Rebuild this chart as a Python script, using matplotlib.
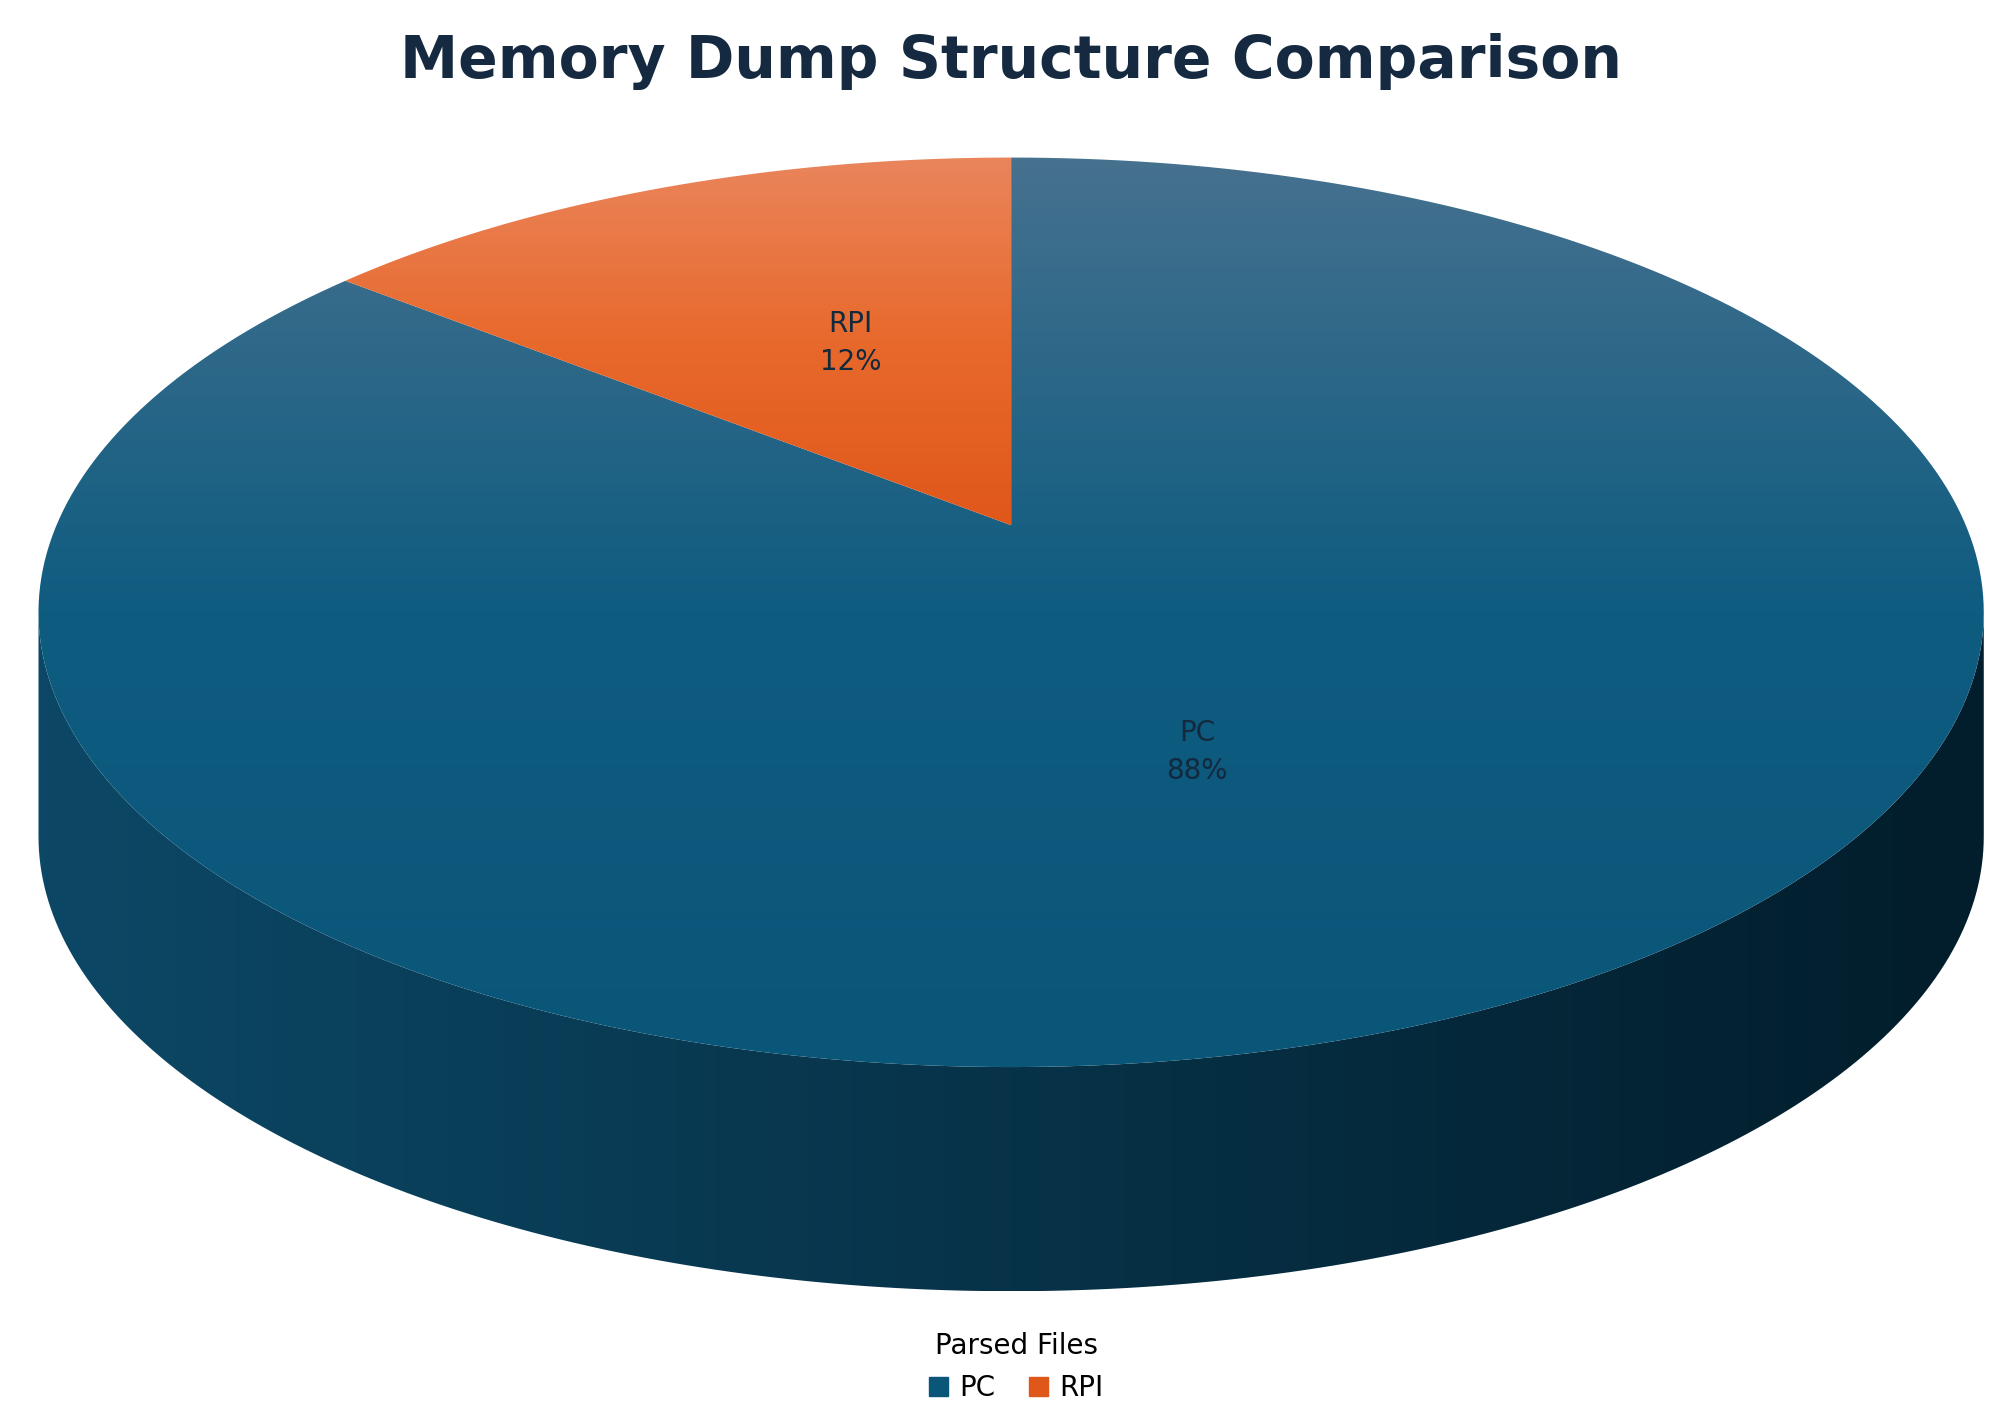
import numpy as np
import matplotlib.pyplot as plt
from matplotlib.patches import Polygon, Patch
from matplotlib.colors import LinearSegmentedColormap

labels = ['PC', 'RPI']
values = [88, 12]
top_colors = [('#46718F', '#0E5C80', '#0A5679'), ('#EA855C', '#E8692C', '#E0571A')]
side_colors = ('#0C4866', '#021D2B')

# reference-pixel geometry
W, H = 1568, 1114
cx, cy, rx, ry, depth = 788, 478, 758, 355, 175
apex_y = 410  # the wedge tip sits above the ellipse centre (perspective)

fig = plt.figure(figsize=(20.12, 14.27), dpi=100)
ax = fig.add_axes([0, 0, 1, 1])
ax.set_xlim(0, W)
ax.set_ylim(H, 0)
ax.axis('off')


def gradient(ax, patch, colors, extent, horizontal=False):
    cmap = LinearSegmentedColormap.from_list('g', colors)
    g = np.linspace(0, 1, 256)
    img = g[None, :] if horizontal else g[:, None]
    im = ax.imshow(img, cmap=cmap, aspect='auto', extent=extent, zorder=1)
    im.set_clip_path(patch)


# side band
t = np.linspace(0, np.pi, 200)
top_edge = np.column_stack([cx + rx * np.cos(t), cy + ry * np.sin(t)])
bot_edge = np.column_stack([cx + rx * np.cos(t[::-1]), cy + depth + ry * np.sin(t[::-1])])
side = Polygon(np.vstack([top_edge, bot_edge]), closed=True, facecolor='none', edgecolor='none')
ax.add_patch(side)
gradient(ax, side, side_colors, (cx - rx, cx + rx, cy + ry + depth, cy), horizontal=True)

# top wedges, starting at 12 o'clock, RPI going counterclockwise
fracs = np.array(values) / sum(values)
start = 90 + fracs[1] * 360
bounds = [(start, 450), (90, start)]
extents = [(cx - rx, cx + rx, cy + ry, cy - ry), (cx - rx, cx + rx, apex_y, cy - ry)]
for (a0, a1), cols, ext in zip(bounds, top_colors, extents):
    th = np.radians(np.linspace(a0, a1, 300))
    pts = np.column_stack([cx + rx * np.cos(th), cy - ry * np.sin(th)])
    pts = np.vstack([[cx, apex_y], pts])
    p = Polygon(pts, closed=True, facecolor='none', edgecolor='none')
    ax.add_patch(p)
    gradient(ax, p, cols, ext)

ax.text(933, 587, f'{labels[0]}\n{values[0]}%', ha='center', va='center',
        fontsize=20, color='#13293D', linespacing=1.45, zorder=3)
ax.text(663, 268, f'{labels[1]}\n{values[1]}%', ha='center', va='center',
        fontsize=20, color='#13293D', linespacing=1.45, zorder=3)

ax.text(788, 48, 'Memory Dump Structure Comparison', ha='center', va='center',
        fontsize=42, fontweight='bold', color='#152A40')

handles = [Patch(color=top_colors[0][2]), Patch(color=top_colors[1][2])]
leg = fig.legend(handles, labels, title='Parsed Files', loc='center',
                 bbox_to_anchor=(0.505, 0.042), ncol=2, frameon=False,
                 fontsize=20, title_fontsize=20, handlelength=0.7, handleheight=0.7,
                 columnspacing=1.2, handletextpad=0.4, borderpad=0)

fig.savefig('out.png', dpi=100)
